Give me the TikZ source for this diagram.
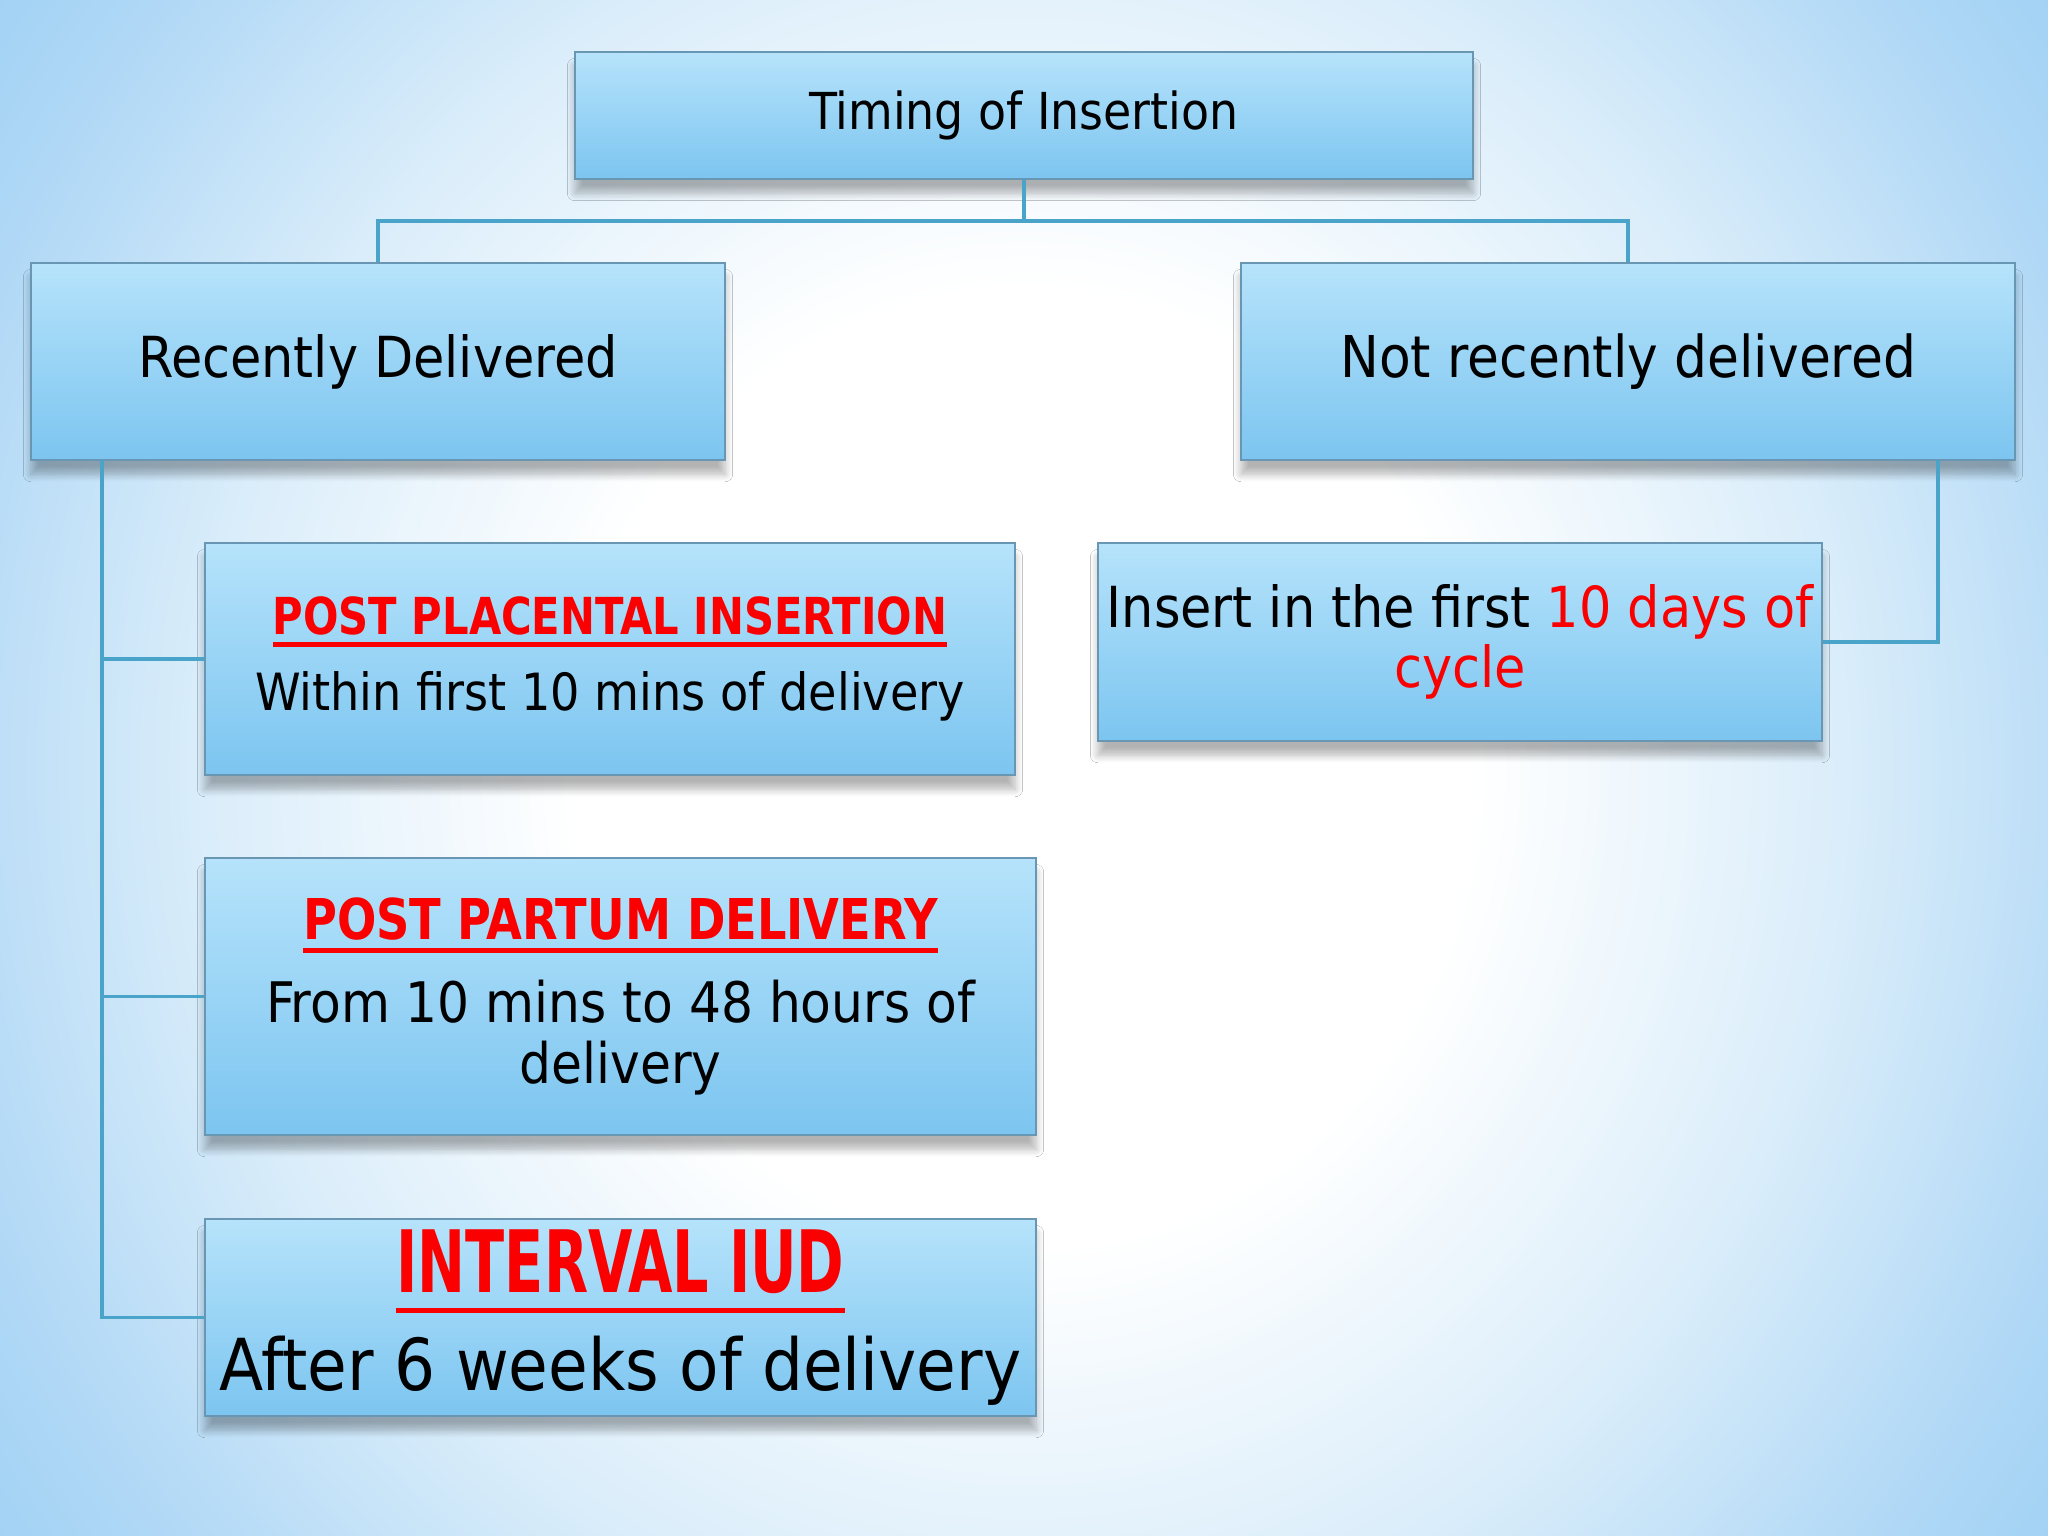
\documentclass[tikz,border=0pt]{standalone}
\usepackage{fontspec}
\setmainfont{DejaVu Sans Condensed}
\usepackage{tikz}
\usetikzlibrary{positioning,shadows.blur}

\definecolor{bgblue}{RGB}{140,200,243}
\definecolor{bgmid}{RGB}{178,217,246}
\definecolor{bgpale}{RGB}{218,237,250}
\definecolor{boxtop}{RGB}{182,227,251}
\definecolor{boxbot}{RGB}{124,197,240}
\definecolor{boxline}{RGB}{105,150,178}
\definecolor{linkblue}{RGB}{74,163,200}
\definecolor{headred}{RGB}{250,0,0}
\pgfdeclareradialshading{slidebg}{\pgfpoint{0bp}{0bp}}{color(0bp)=(white); color(11bp)=(white); color(20bp)=(bgpale); color(27bp)=(bgmid); color(36bp)=(bgblue); color(50bp)=(bgblue)}
\newsavebox{\headbox}
\newcommand{\redhead}[2]{\sbox{\headbox}{\bfseries\color{headred}#2}\scalebox{#1}[1]{\color{headred}\rlap{\usebox{\headbox}}\rule[-0.24em]{\wd\headbox}{1.4pt}}}

\begin{document}
\begin{tikzpicture}[line width=0.9pt,
  box/.style={rectangle, draw=boxline, line width=0.6pt, top color=boxtop,
    bottom color=boxbot, align=center, inner sep=2pt,
    blur shadow={shadow xshift=0pt, shadow yshift=-4pt, shadow blur steps=8, shadow opacity=30}},
  link/.style={draw=linkblue, line width=1pt}]
        \useasboundingbox (0,0) rectangle (20.48,-15.36);
        \begin{scope}
          \clip (0,0) rectangle (20.48,-15.36);
          \shade[shading=slidebg] (0,3.2) rectangle (20.48,-18.56);
        \end{scope}
        \node [box, minimum width=8.98cm, minimum height=1.27cm, font=\fontsize{14.5}{18}\selectfont] (top) at (10.24,-1.155) {Timing of Insertion};
        \node [box, minimum width=6.94cm, minimum height=1.97cm, font=\fontsize{16.1}{20}\selectfont] (rd) at (3.78,-3.615) {Recently Delivered};
        \node [box, minimum width=7.74cm, minimum height=1.97cm, font=\fontsize{16.4}{20}\selectfont] (nrd) at (16.28,-3.615) {Not recently delivered};
        \node [box, minimum width=8.10cm, minimum height=2.32cm, font=\fontsize{14.6}{21.5}\selectfont] (ppi) at (6.10,-6.59)
          {{\fontsize{14.5}{21.5}\selectfont\redhead{0.91}{POST PLACENTAL INSERTION}}\\Within first 10 mins of delivery};
        \node [box, minimum width=8.31cm, minimum height=2.77cm, font=\fontsize{15.9}{17.5}\selectfont] (ppd) at (6.205,-9.965)
          {{\fontsize{16}{17.5}\selectfont\redhead{0.915}{POST PARTUM DELIVERY}}\\[6pt]From 10 mins to 48 hours of\\delivery};
        \node [box, minimum width=8.31cm, minimum height=1.97cm, font=\fontsize{20.4}{28}\selectfont] (iud) at (6.205,-13.175)
          {{\fontsize{24.5}{28}\selectfont\redhead{0.74}{INTERVAL IUD}}\\After 6 weeks of delivery};
        \node [box, minimum width=7.24cm, minimum height=1.98cm, font=\fontsize{16.1}{17}\selectfont] (ins) at (14.60,-6.42)
          {Insert in the first {\color{headred}10 days of}\\{\color{headred}cycle}};
        \coordinate (split) at (10.24,-2.21);
        \coordinate (ltrunk) at (1.02,-4.60);
        \coordinate (rtrunk) at (19.38,-4.60);
        \path [link] (top.south) -- (split) -| (rd.north);
        \path [link] (split) -| (nrd.north);
        \path [link] (ltrunk) |- (ppi.west);
        \path [link] (ltrunk) |- (ppd.west);
        \path [link] (ltrunk) |- (iud.west);
        \path [link] (rtrunk) |- (ins.east);
    \end{tikzpicture}
\end{document}
